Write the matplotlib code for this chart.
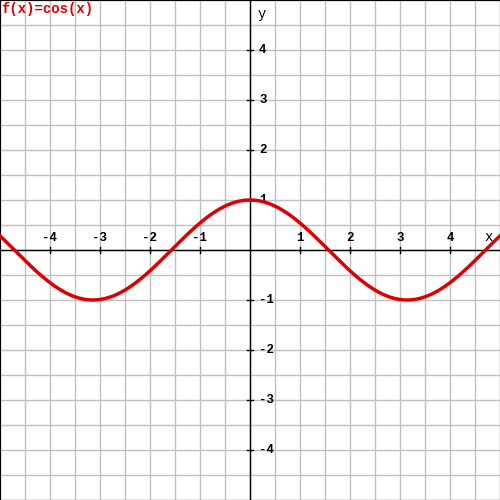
import numpy as np
import matplotlib
matplotlib.use("Agg")
import matplotlib.pyplot as plt

# function plot: f(x) = cos(x) on [-5, 5]
x_vals = np.linspace(-5, 5, 801)
y_vals = np.cos(x_vals)
tick_vals = [-4, -3, -2, -1, 1, 2, 3, 4]
title = "f(x)=cos(x)"

fig = plt.figure(figsize=(5, 5), dpi=100)
ax = fig.add_axes([0, 0, 1, 1])
ax.set_xlim(-5, 5)
ax.set_ylim(-5, 5)

for g in np.arange(-5, 5.01, 0.5):
    ax.axvline(g, color="#c0c0c0", lw=1, zorder=0)
    ax.axhline(g, color="#c0c0c0", lw=1, zorder=0)
ax.axhline(0, color="black", lw=1, zorder=1)
ax.axvline(0, color="black", lw=1, zorder=1)

font = dict(family="Liberation Mono", weight="bold", fontsize=9)
for t in tick_vals:
    ax.plot([t, t], [-0.06, 0.06], color="black", lw=1)
    ax.plot([-0.06, 0.06], [t, t], color="black", lw=1)
    ax.text(t, 0.12, str(t), ha="center", va="bottom", **font)
    ax.text(0.18, t, str(t), ha="left", va="center", **font)
ax.text(4.78, 0.12, "x", ha="center", va="bottom", family="Liberation Mono", fontsize=10)
ax.text(0.24, 4.72, "y", ha="center", va="center", family="Liberation Mono", fontsize=10)

ax.plot(x_vals, y_vals, color="#dd0000", lw=2.5, zorder=3)
ax.text(-4.97, 4.95, title, ha="left", va="top", color="#dd0000",
        family="Liberation Mono", weight="bold", fontsize=10)

ax.set_xticks([])
ax.set_yticks([])
for s in ax.spines.values():
    s.set_color("black")
fig.savefig("out.png", dpi=100)
